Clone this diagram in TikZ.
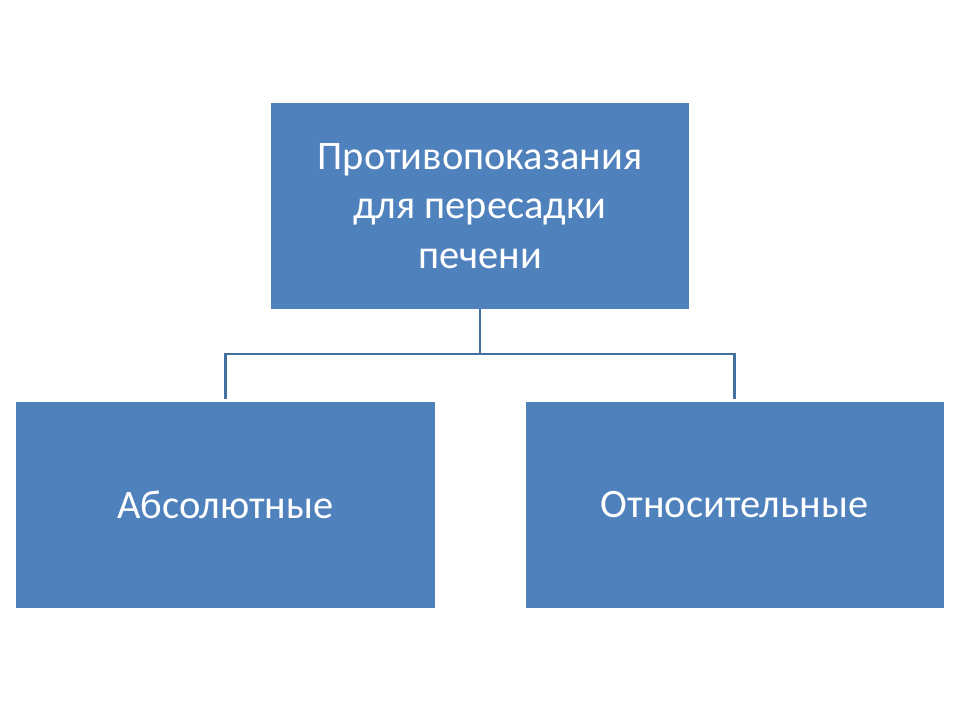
\documentclass[tikz,border=0pt]{standalone}
\usepackage{fontspec}
\setmainfont{Carlito}
\usetikzlibrary{positioning}
\tikzset{
    topic/.style={rectangle, draw=blue!30!white!50!black!0, draw=none, fill=boxblue, text=white, align=center, minimum width=8.36cm, minimum height=4.12cm, inner sep=0pt, font=\fontsize{23}{28}\selectfont},
    link/.style={draw=lineblue, line width=1.2pt}
}
\definecolor{boxblue}{HTML}{4F81BD}
\definecolor{lineblue}{HTML}{41719C}
\begin{document}
\begin{tikzpicture}
        \useasboundingbox (0,0) rectangle (19.2,-14.4);
        % root
        \node[topic] (Root) at (9.6,-4.12) {Противопоказания\\для пересадки\\печени};
        % children
        \node[topic] (Abs) at (4.51,-10.1) {Абсолютные};
        \node[topic] (Rel) at (14.69,-10.1) {Относительные};
        \coordinate (Bus) at (9.6,-7.08);
        \draw[link] (Root.south) -- (Bus) -| ([yshift=1.5pt]Abs.north);
        \draw[link] (Bus) -| ([yshift=1.5pt]Rel.north);
    \end{tikzpicture}
\end{document}
